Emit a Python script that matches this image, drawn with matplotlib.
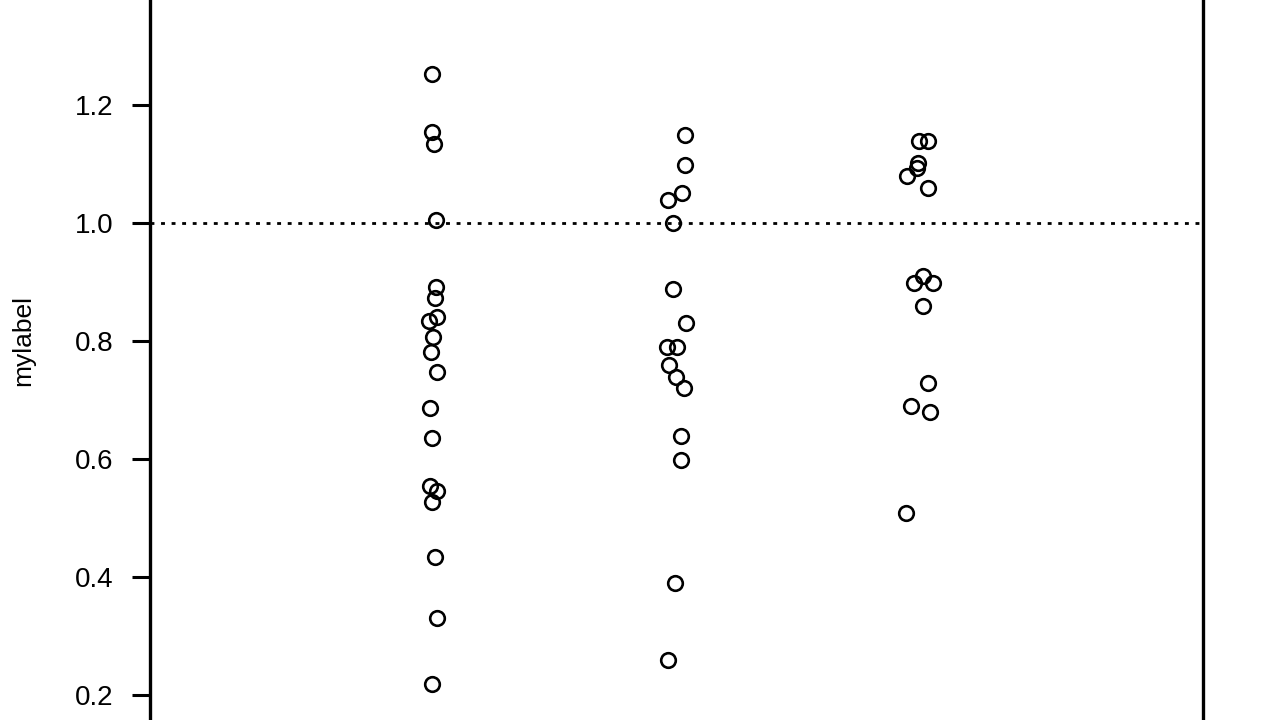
import numpy as np
import matplotlib
matplotlib.use('Agg')
from matplotlib import pyplot as plt

plt.rcParams['font.family'] = ['Liberation Sans', 'DejaVu Sans']

# values, one list per group
group1 = [1.252, 1.154, 1.134, 1.005, 0.892, 0.873, 0.841, 0.834, 0.807, 0.781,
          0.747, 0.686, 0.636, 0.554, 0.546, 0.527, 0.434, 0.331, 0.219]
group2 = [1.149, 1.098, 1.051, 1.039, 1.000, 0.888, 0.831, 0.790, 0.790, 0.759,
          0.739, 0.720, 0.639, 0.598, 0.390, 0.259]
group3 = [1.139, 1.139, 1.102, 1.093, 1.080, 1.059, 0.910, 0.898, 0.898, 0.859,
          0.729, 0.690, 0.680, 0.508]

# horizontal jitter of each point (in group units)
jitter1 = [-0.004, -0.004, 0.004, 0.012, 0.012, 0.008, 0.017, -0.017, 0.000, -0.008,
           0.017, -0.012, -0.004, -0.012, 0.017, -0.004, 0.008, 0.017, -0.004]
jitter2 = [0.041, 0.041, 0.029, -0.029, -0.012, -0.012, 0.045, -0.033, 0.008, -0.025,
           0.004, 0.037, 0.025, 0.021, 0.000, -0.029]
jitter3 = [0.004, 0.041, 0.000, -0.004, -0.045, 0.041, 0.021, -0.017, 0.062, 0.021,
           0.041, -0.029, 0.050, -0.050]

groups = [group1, group2, group3]
jitters = [jitter1, jitter2, jitter3]
yticks = [0.2, 0.4, 0.6, 0.8, 1.0, 1.2]
ylabel = 'mylabel'
ref_line = 1.0

fig = plt.figure(figsize=(12.8, 7.2), dpi=100)
ax = fig.add_axes([0.1168, -0.05, 0.823, 1.1])

for i in range(3):
    x = np.array(jitters[i]) + i + 1
    ax.plot(x, groups[i], 'o', ms=10.5, mfc='none', mec='black', mew=1.9)

ax.axhline(ref_line, color='black', lw=2, ls=(0, (1.4, 2.4)))

ax.set_xlim(-0.1715, 4.178)
ax.set_ylim(0.0966, 1.439)
ax.set_yticks(yticks)
ax.set_yticklabels([f'{t:.1f}' for t in yticks])
ax.set_xticks([])
ax.tick_params(axis='y', direction='out', length=13, width=2.2, pad=13, labelsize=20)

for side in ['left', 'right', 'top', 'bottom']:
    ax.spines[side].set_linewidth(2.4)

fig.text(23 / 1280, 1 - 341 / 720, ylabel, rotation=90, ha='center', va='center', fontsize=19)

fig.savefig('out.png', dpi=100)
